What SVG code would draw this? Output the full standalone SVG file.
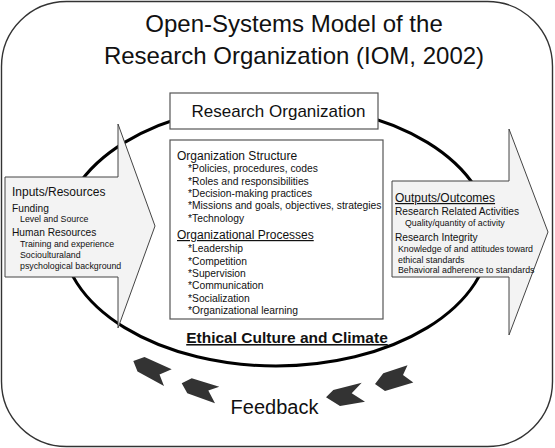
<svg xmlns="http://www.w3.org/2000/svg" width="555" height="448" viewBox="0 0 555 448">
<style>
text{font-family:"Liberation Sans",Arial,sans-serif;fill:#111}
.box{fill:#fff;stroke:#555;stroke-width:1.2}
.arrow{fill:#f3f3f3;stroke:#444;stroke-width:1}
.chev{fill:#333}
.t12{font-size:12px}
.t10{font-size:10.2px}
.t9{font-size:8.8px}
.item{font-size:10.3px}
.u{text-decoration:underline}
</style>
<rect x="1.5" y="1.5" width="551" height="445" rx="65" ry="65" fill="#fff" stroke="#333" stroke-width="1.4"/>
<g id="title">
<text x="294" y="32" font-size="24" text-anchor="middle">Open-Systems Model of the</text>
<text x="294" y="64" font-size="24" text-anchor="middle">Research Organization (IOM, 2002)</text>
</g>
<g id="climate">
<ellipse cx="276" cy="235" rx="214" ry="131" fill="none" stroke="#000" stroke-width="3"/>
<text x="287" y="343" font-size="15.5" font-weight="bold" text-anchor="middle" class="u">Ethical Culture and Climate</text>
</g>
<g id="inputs">
<polygon class="arrow" points="5,177 118,177 118,124 155,226 118,328 118,277 5,277"/>
<text x="12" y="196" class="t12">Inputs/Resources</text>
<text x="12" y="212" class="t10">Funding</text>
<text x="20" y="222" class="t9">Level and Source</text>
<text x="12" y="236" class="t10">Human Resources</text>
<text x="20" y="247" class="t9">Training and experience</text>
<text x="20" y="258" class="t9">Socioulturaland</text>
<text x="20" y="268.5" class="t9">psychological background</text>
</g>
<g id="outputs">
<polygon class="arrow" points="392,181 509,181 509,129 548,232 509,335 509,277 392,277"/>
<text x="395" y="202" class="t12 u">Outputs/Outcomes</text>
<text x="395" y="215" class="t10">Research Related Activities</text>
<text x="405" y="226" class="t9">Quality/quantity of activity</text>
<text x="395" y="241" class="t10">Research Integrity</text>
<text x="398" y="252" class="t9">Knowledge of and attitudes toward</text>
<text x="398" y="262.5" class="t9">ethical standards</text>
<text x="398" y="273" class="t9">Behavioral adherence to standards</text>
</g>
<g id="research-organization">
<rect class="box" x="170" y="93" width="208" height="36"/>
<text x="278.5" y="117" font-size="17" text-anchor="middle">Research Organization</text>
</g>
<g id="structure-processes">
<rect class="box" x="170" y="140" width="213" height="179"/>
<text x="177" y="160" class="t12">Organization Structure</text>
<text x="188" y="172" class="item">*Policies, procedures, codes</text>
<text x="188" y="184.5" class="item">*Roles and responsibilities</text>
<text x="188" y="197" class="item">*Decision-making practices</text>
<text x="188" y="209" class="item">*Missions and goals, objectives, strategies</text>
<text x="188" y="221.5" class="item">*Technology</text>
<text x="177" y="239" class="t12 u">Organizational Processes</text>
<text x="188" y="252" class="item">*Leadership</text>
<text x="188" y="264.5" class="item">*Competition</text>
<text x="188" y="277" class="item">*Supervision</text>
<text x="188" y="289" class="item">*Communication</text>
<text x="188" y="301.5" class="item">*Socialization</text>
<text x="188" y="314" class="item">*Organizational learning</text>
</g>
<g id="feedback">
<polygon class="chev" points="133.3,361 144.5,357 171.7,369.3 159.5,374.5 164,386 137.5,371.5"/>
<polygon class="chev" points="181.7,383.3 191.7,378.3 219.3,386.7 208.3,390.5 215,403.3 187.3,393.3"/>
<polygon class="chev" points="326,397.3 333.3,390 361.7,382.7 351.7,393.3 365,401.7 340,406"/>
<polygon class="chev" points="375,384 383.3,373.3 407.5,365.3 403,375 413.3,382.5 385,391"/>
<text x="274.5" y="414" font-size="20" text-anchor="middle">Feedback</text>
</g>
</svg>
